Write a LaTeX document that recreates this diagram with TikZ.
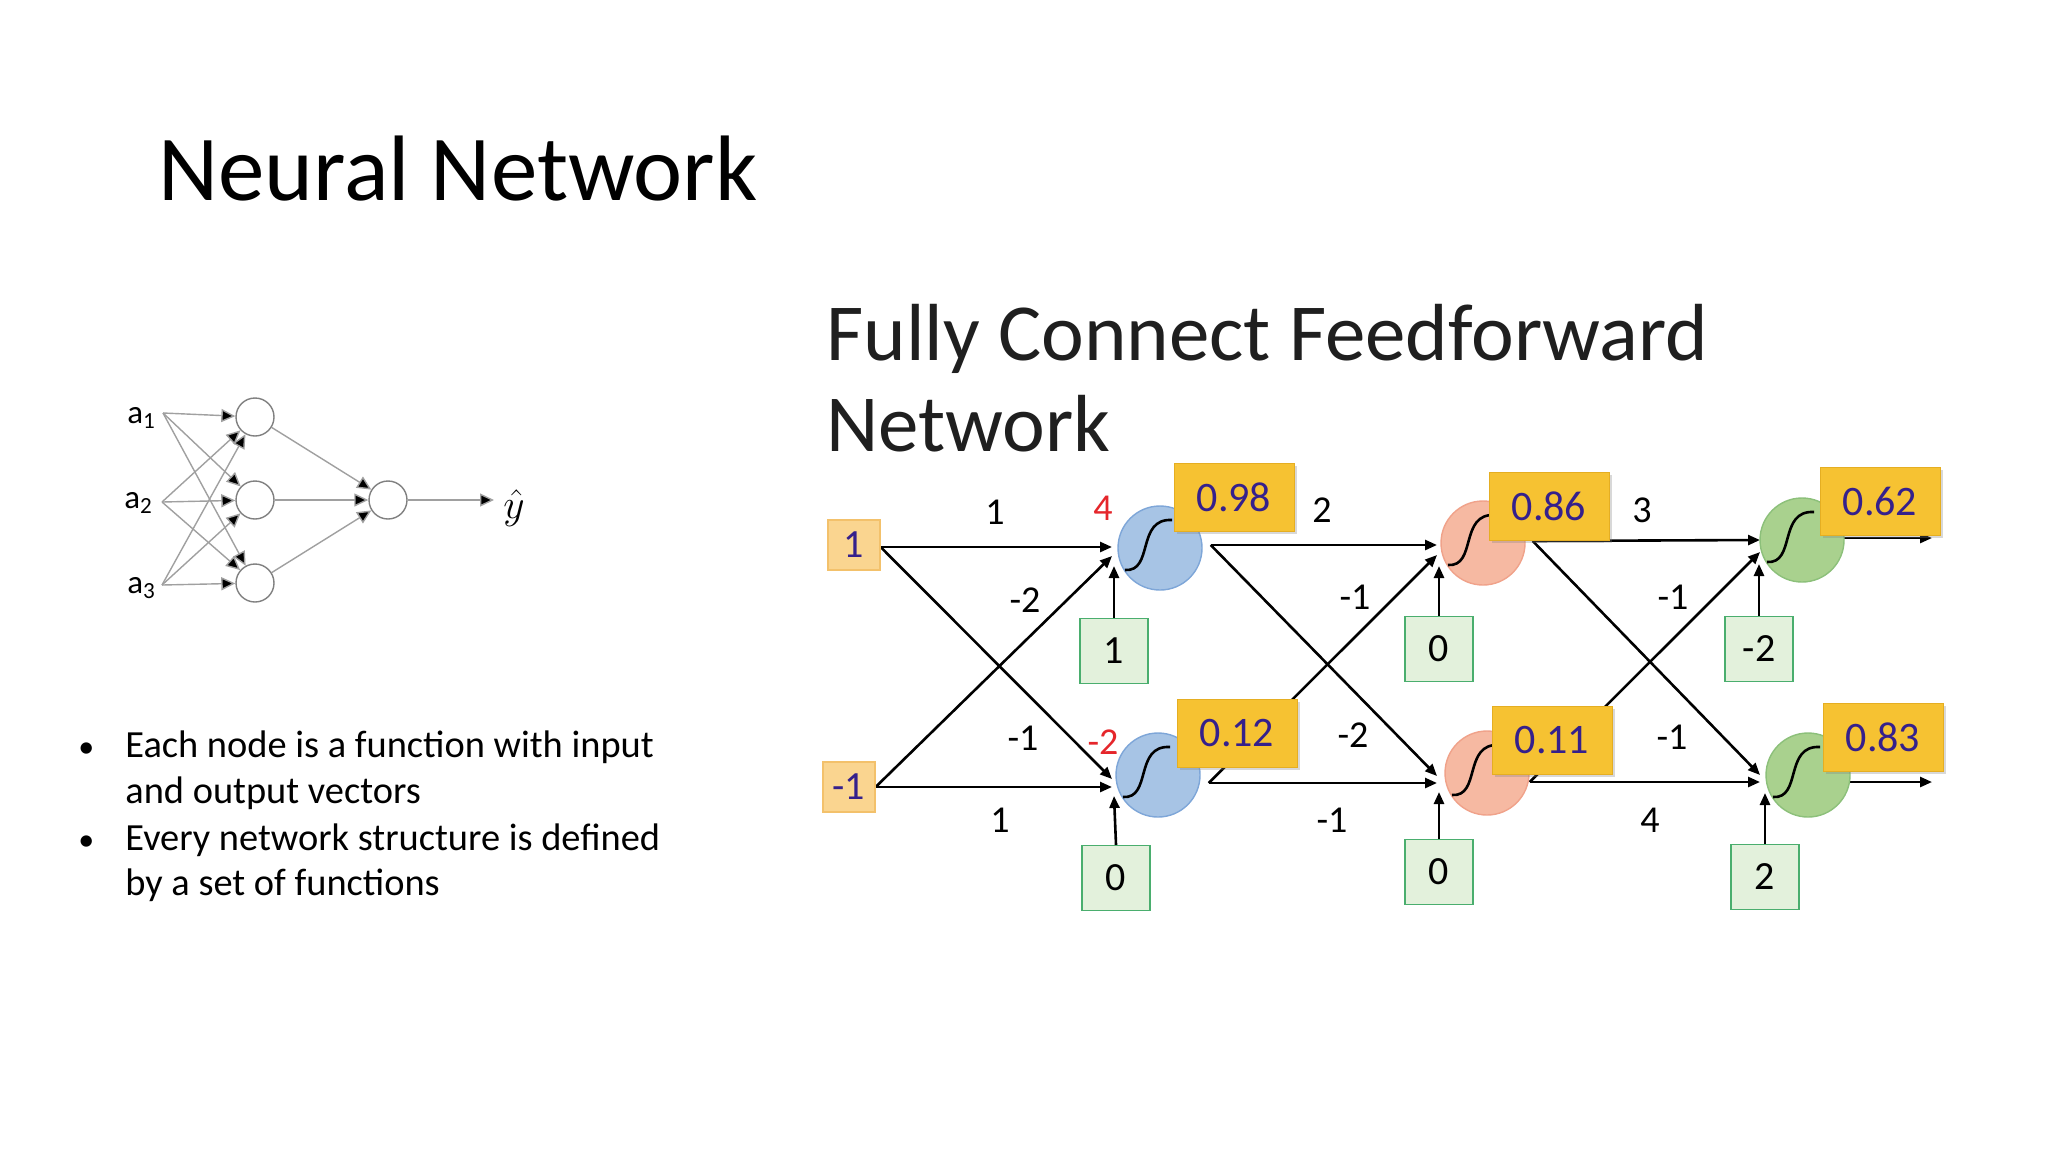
\documentclass[tikz,border=0pt]{standalone}
\usepackage{fontspec}
\setmainfont{Carlito}
\usetikzlibrary{arrows.meta,shadows}
\definecolor{nBlue}{HTML}{A7C4E5}
\definecolor{nBlueD}{HTML}{7EA6D8}
\definecolor{nOrange}{HTML}{F6B9A2}
\definecolor{nOrangeD}{HTML}{F0A28A}
\definecolor{nGreen}{HTML}{A9D18E}
\definecolor{nGreenD}{HTML}{8CC07A}
\definecolor{gold}{HTML}{F6C232}
\definecolor{goldD}{HTML}{E5AE22}
\definecolor{inFill}{HTML}{FAD590}
\definecolor{inBorder}{HTML}{F3C16B}
\definecolor{biasFill}{HTML}{E3F1DC}
\definecolor{biasBorder}{HTML}{4AAE6E}
\definecolor{numBlue}{HTML}{35208C}
\definecolor{wred}{HTML}{E5262B}
\definecolor{lgray}{HTML}{A0A0A0}
\pgfdeclarelayer{paper}
\pgfdeclarelayer{edges}
\pgfsetlayers{paper,edges,main}
\begin{document}
\begin{tikzpicture}[x=0.5pt,y=-0.5pt,
  lcirc/.style={circle, minimum size=19pt, inner sep=0pt, draw=gray, line width=0.7pt, fill=white},
  ledge/.style={draw=lgray, line width=0.7pt, -{Triangle[length=7pt,width=6.5pt,fill=black]}},
  alabel/.style={anchor=base west, inner sep=0pt, font=\fontsize{16.5}{19}\selectfont},
  bullettext/.style={anchor=base west, inner sep=0pt, font=\fontsize{19.2}{23}\selectfont},
  neuron/.style={circle, minimum size=42pt, inner sep=0pt, line width=0.7pt},
  neuB/.style={neuron, fill=nBlue, draw=nBlueD},
  neuO/.style={neuron, fill=nOrange, draw=nOrangeD},
  neuG/.style={neuron, fill=nGreen, draw=nGreenD},
  sig/.style={draw=black, line width=1.3pt},
  outbox/.style={rectangle, minimum width=60pt, minimum height=34pt, inner sep=1pt, fill=gold, draw=goldD, line width=0.5pt, text=numBlue, font=\fontsize{21}{25}\selectfont, drop shadow={opacity=0.3, shadow xshift=1.5pt, shadow yshift=-1.5pt}},
  inbox/.style={rectangle, minimum width=26pt, minimum height=25pt, inner sep=1pt, fill=inFill, draw=inBorder, line width=0.6pt, text=numBlue, font=\fontsize{20}{24}\selectfont},
  biasbox/.style={rectangle, minimum width=34pt, minimum height=32.5pt, inner sep=1pt, fill=biasFill, draw=biasBorder, line width=0.7pt, font=\fontsize{20}{24}\selectfont},
  wedge/.style={draw=black, line width=1.3pt, -{Triangle[length=6pt,width=5pt]}},
  wlabel/.style={inner sep=0pt, font=\fontsize{19}{22}\selectfont},
]
\begin{pgfonlayer}{paper}
\fill[white] (0,0) rectangle (2048,1152);
\end{pgfonlayer}
\useasboundingbox (0,0) rectangle (2048,1152);

% titles
\node[anchor=base west, inner sep=0pt, font=\fontsize{46.5}{56}\selectfont] (title) at (158,200) {Neural Network};
\node[anchor=base west, inner sep=0pt, text=black!88, font=\fontsize{40.5}{46}\selectfont] (sub1) at (826,360) {Fully Connect Feedforward};
\node[anchor=base west, inner sep=0pt, text=black!88, font=\fontsize{40.5}{46}\selectfont] (sub2) at (826,451) {Network};

% bullets
\node[bullettext, font=\fontsize{16}{20}\selectfont] (bul1) at (78,757) {•};
\node[bullettext] (l1) at (125,757) {Each node is a function with input};
\node[bullettext] (l2) at (125,803) {and output vectors};
\node[bullettext, font=\fontsize{16}{20}\selectfont] (bul2) at (78,850) {•};
\node[bullettext] (l3) at (125,850) {Every network structure is defined};
\node[bullettext] (l4) at (125,895) {by a set of functions};

% small network
\node[alabel] (a1) at (127,423) {a\textsubscript{1}};
\node[alabel] (a2) at (124,508) {a\textsubscript{2}};
\node[alabel] (a3) at (127,593) {a\textsubscript{3}};
\coordinate (a1p) at (163,413);
\coordinate (a2p) at (162,502);
\coordinate (a3p) at (162,585);
\node[lcirc] (h1) at (255,417) {};
\node[lcirc] (h2) at (255,500) {};
\node[lcirc] (h3) at (255,583) {};
\node[lcirc] (out) at (388,500) {};
\coordinate (ytip) at (494,500);
\node[inner sep=0pt, font=\fontsize{21}{24}\selectfont] (yhat) at (514,508) {$\hat{y}$};
\begin{pgfonlayer}{edges}
\foreach \s in {a1p,a2p,a3p} {
  \foreach \t in {h1,h2,h3} {
    \draw[ledge] (\s) -- (\t);
  }
}
\foreach \t in {h1,h2,h3} \draw[ledge] (\t) -- (out);
\draw[ledge] (out) -- (ytip);
\end{pgfonlayer}

% main network: nodes
\node[inbox] (i1) at (854,545) {1};
\node[inbox] (i2) at (849,787) {-1};

\node[neuB] (c11) at (1160,548) {};
\node[neuB] (c12) at (1158,775) {};
\node[neuO] (c21) at (1483,543) {};
\node[neuO] (c22) at (1487,773) {};
\node[neuG] (c31) at (1802,540) {};
\node[neuG] (c32) at (1808,775) {};

\foreach \n in {c11,c12,c21,c22,c31,c32} {
  \draw[sig] ([shift={(-35,22)}]\n.center) .. controls ([shift={(-6,24)}]\n.center) and ([shift={(-24,-30)}]\n.center) .. ([shift={(12,-28)}]\n.center);
}

\node[outbox] (o11) at (1234,497) {0.98};
\node[outbox] (o12) at (1237,733) {0.12};
\node[outbox] (o21) at (1549,506) {0.86};
\node[outbox] (o22) at (1552,740) {0.11};
\node[outbox] (o31) at (1880,501) {0.62};
\node[outbox] (o32) at (1883,737) {0.83};

\node[biasbox] (b11) at (1114,651) {1};
\node[biasbox] (b12) at (1116,878) {0};
\node[biasbox] (b21) at (1439,649) {0};
\node[biasbox] (b22) at (1439,872) {0};
\node[biasbox] (b31) at (1759,649) {-2};
\node[biasbox] (b32) at (1765,877) {2};

% arrow tips
\coordinate (t11h) at (1112,547);
\coordinate (t11d) at (1112,556);
\coordinate (t11b) at (1114,566);
\coordinate (t12h) at (1112,787);
\coordinate (t12d) at (1112,779);
\coordinate (t12b) at (1114,796);
\coordinate (t21h) at (1437,545);
\coordinate (t21d) at (1437,555);
\coordinate (t21b) at (1439,566);
\coordinate (t22h) at (1437,783);
\coordinate (t22d) at (1437,776);
\coordinate (t22b) at (1439,792);
\coordinate (t31h) at (1760,540);
\coordinate (t31d) at (1760,552);
\coordinate (t31b) at (1759,564);
\coordinate (t32h) at (1760,782);
\coordinate (t32d) at (1760,775);
\coordinate (t32b) at (1765,793);
\coordinate (y1) at (1932,538);
\coordinate (y2) at (1932,782);

\begin{pgfonlayer}{edges}
  % layer 1
  \draw[wedge] ([yshift=-1]i1.east) -- (t11h);
  \draw[wedge] ([yshift=-1]i1.east) -- (t12d);
  \draw[wedge] (i2.east) -- (t12h);
  \draw[wedge] (i2.east) -- (t11d);
  \draw[wedge] (b11.north) -- (t11b);
  \draw[wedge] (b12.north) -- (t12b);
  % layer 2
  \draw[wedge] ([shift={(8,-3)}]c11.east) -- (t21h);
  \draw[wedge] ([shift={(8,-3)}]c11.east) -- (t22d);
  \draw[wedge] ([shift={(8,8)}]c12.east) -- (t22h);
  \draw[wedge] ([shift={(8,8)}]c12.east) -- (t21d);
  \draw[wedge] (b21.north) -- (t21b);
  \draw[wedge] (b22.north) -- (t22b);
  % layer 3
  \draw[wedge] ([shift={(7,-2)}]c21.east) -- (t31h);
  \draw[wedge] ([shift={(7,-2)}]c21.east) -- (t32d);
  \draw[wedge] ([shift={(0,9)}]c22.east) -- (t32h);
  \draw[wedge] ([shift={(0,9)}]c22.east) -- (t31d);
  \draw[wedge] (b31.north) -- (t31b);
  \draw[wedge] (b32.north) -- (t32b);
  % outputs
  \draw[wedge] ([shift={(-4,-2)}]c31.east) -- (y1);
  \draw[wedge] ([shift={(-10,7)}]c32.east) -- (y2);
\end{pgfonlayer}

% weight labels
\node[wlabel] (w1) at (995,512) {1};
\node[wlabel, text=wred] (z1) at (1103,508) {4};
\node[wlabel] (w2) at (1025,600) {-2};
\node[wlabel] (w3) at (1023,738) {-1};
\node[wlabel, text=wred] (z2) at (1103,742) {-2};
\node[wlabel] (w4) at (1000,820) {1};
\node[wlabel] (w5) at (1322,510) {2};
\node[wlabel] (w6) at (1355,597) {-1};
\node[wlabel] (w7) at (1353,735) {-2};
\node[wlabel] (w8) at (1332,820) {-1};
\node[wlabel] (w9) at (1642,510) {3};
\node[wlabel] (w10) at (1673,597) {-1};
\node[wlabel] (w11) at (1672,737) {-1};
\node[wlabel] (w12) at (1650,820) {4};
\end{tikzpicture}
\end{document}
